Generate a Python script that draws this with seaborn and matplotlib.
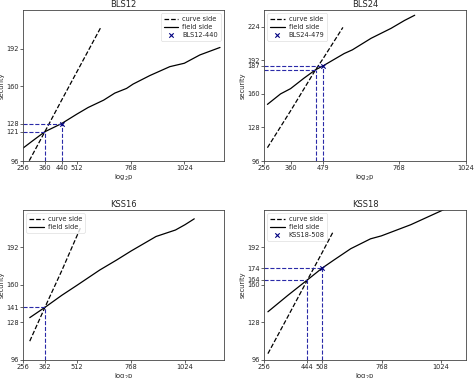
import matplotlib
matplotlib.use("Agg")
import matplotlib.pyplot as plt
import seaborn as sns
import pandas as pd

sns.set_style("ticks")
plt.rcParams['font.family'] = ['DejaVu Sans']

# ---------------- data ----------------
# BLS12
bls12_field_x = [256, 300, 360, 400, 440, 512, 566, 640, 693, 749, 780, 860, 955, 1024, 1098, 1194]
bls12_field_y = [107, 113, 121, 124.5, 128, 136, 141.7, 148, 154, 158, 161.7, 169, 176.6, 179.5, 186.6, 193]
bls12_curve_x = [256, 285, 360, 440, 512, 626]
bls12_curve_y = [86.3, 96, 121, 148, 172, 210]
bls12_yticks = [96, 121, 128, 160, 192]
bls12_xticks = [256, 360, 440, 512, 768, 1024]
bls12_marks = [(360, 121), (440, 128)]
bls12_point = (440, 128)

# BLS24
bls24_field_x = [269, 319, 357, 408, 452, 479, 561, 592, 663, 739, 790, 829]
bls24_field_y = [150, 160, 165, 175, 183, 186.5, 198.5, 202, 213, 222.5, 230, 235]
bls24_curve_x = [269, 360, 452, 479, 556]
bls24_curve_y = [108.7, 145, 183, 193, 223.4]
bls24_yticks = [96, 128, 160, 187, 192, 224]
bls24_xticks = [256, 360, 479, 768, 1024]
bls24_marks = [(452, 183), (479, 187)]
bls24_point = (479, 187)

# KSS16
kss16_field_x = [288, 362, 440, 512, 620, 700, 768, 887, 979, 1024, 1068]
kss16_field_y = [132, 141, 151, 159.5, 172.5, 181, 188.6, 201, 206.5, 211, 216]
kss16_curve_x = [288, 362, 440, 530]
kss16_curve_y = [112, 141.6, 172, 209]
kss16_yticks = [96, 128, 141, 160, 192]
kss16_xticks = [256, 362, 512, 768, 1024]
kss16_marks = [(362, 141)]
kss16_point = None

# KSS18
kss18_field_x = [273, 360, 444, 508, 560, 633, 719, 766, 894, 1024, 1060]
kss18_field_y = [137, 151, 164, 174, 181, 190.6, 199, 201.5, 211, 222.6, 226]
kss18_curve_x = [273, 360, 444, 508, 556]
kss18_curve_y = [101.4, 133, 163.8, 187, 204.8]
kss18_yticks = [96, 128, 160, 164, 174, 192]
kss18_xticks = [256, 444, 508, 768, 1024]
kss18_marks = [(444, 164), (508, 174)]
kss18_point = (508, 174)

panels = [
    dict(title="BLS12", fx=bls12_field_x, fy=bls12_field_y, cx=bls12_curve_x, cy=bls12_curve_y,
         yt=bls12_yticks, xt=bls12_xticks, marks=bls12_marks, pt=bls12_point, lab="BLS12-440",
         xlim=(256, 1213), ylim=(96, 225), loc="upper right",
         pos=[23/474, 1-161/378, 201/474, 151/378]),
    dict(title="BLS24", fx=bls24_field_x, fy=bls24_field_y, cx=bls24_curve_x, cy=bls24_curve_y,
         yt=bls24_yticks, xt=bls24_xticks, marks=bls24_marks, pt=bls24_point, lab="BLS24-479",
         xlim=(256, 1024), ylim=(96, 240), loc="upper left",
         pos=[264/474, 1-161/378, 202/474, 151/378]),
    dict(title="KSS16", fx=kss16_field_x, fy=kss16_field_y, cx=kss16_curve_x, cy=kss16_curve_y,
         yt=kss16_yticks, xt=kss16_xticks, marks=kss16_marks, pt=kss16_point, lab=None,
         xlim=(256, 1209), ylim=(96, 223.5), loc="upper left",
         pos=[23/474, 1-360/378, 201/474, 150/378]),
    dict(title="KSS18", fx=kss18_field_x, fy=kss18_field_y, cx=kss18_curve_x, cy=kss18_curve_y,
         yt=kss18_yticks, xt=kss18_xticks, marks=kss18_marks, pt=kss18_point, lab="KSS18-508",
         xlim=(256, 1134), ylim=(96, 223.5), loc="upper left",
         pos=[264/474, 1-360/378, 202/474, 150/378]),
]

fig = plt.figure(figsize=(4.74, 3.78), dpi=100)
blue = "#2a2aa8"
fs = 4.8

for p in panels:
    ax = fig.add_axes(p["pos"])
    curve = pd.DataFrame({"x": p["cx"], "y": p["cy"]})
    field = pd.DataFrame({"x": p["fx"], "y": p["fy"]})
    sns.lineplot(data=curve, x="x", y="y", ax=ax, color="black", lw=0.9,
                 linestyle="--", label="curve side", sort=False)
    sns.lineplot(data=field, x="x", y="y", ax=ax, color="black", lw=0.9,
                 label="field side", sort=False)
    for (mx, my) in p["marks"]:
        ax.plot([p["xlim"][0], mx], [my, my], color=blue, lw=0.8, ls="--")
        ax.plot([mx, mx], [p["ylim"][0], my], color=blue, lw=0.8, ls="--")
    if p["pt"] is not None:
        sns.scatterplot(x=[p["pt"][0]], y=[p["pt"][1]], ax=ax, marker="x",
                        color="navy", s=10, linewidth=0.8, label=p["lab"], zorder=5)
    ax.set_xlim(*p["xlim"])
    ax.set_ylim(*p["ylim"])
    ax.set_xticks(p["xt"])
    ax.set_yticks(p["yt"])
    ax.tick_params(labelsize=fs, length=2, width=0.5, pad=1)
    ax.set_title(p["title"], fontsize=6, pad=2)
    ax.set_xlabel("log$_2$p", fontsize=fs, labelpad=1)
    ax.set_ylabel("security", fontsize=fs, labelpad=1)
    for s in ax.spines.values():
        s.set_linewidth(0.6)
        s.set_color("#444444")
        s.set_visible(True)
    leg = ax.legend(loc=p["loc"], fontsize=fs, handlelength=2.2, borderpad=0.4,
                    labelspacing=0.3, handletextpad=0.6, frameon=True)
    leg.get_frame().set_linewidth(0.4)

fig.savefig("out.png", dpi=100)
